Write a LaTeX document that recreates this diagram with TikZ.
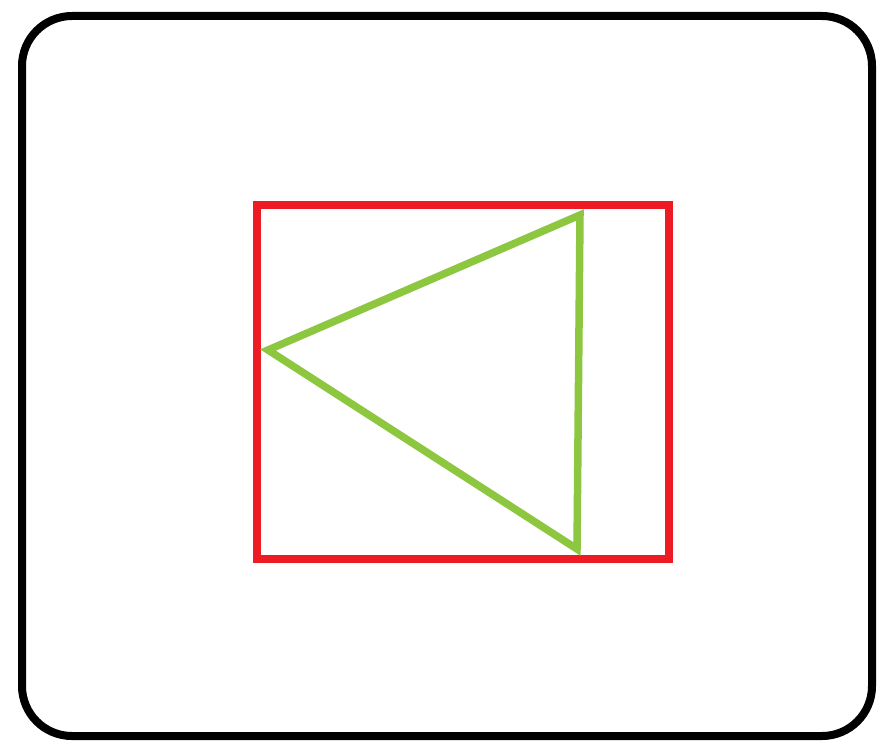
\documentclass[tikz,border=0pt]{standalone}
\usepackage{tikz}
\usetikzlibrary{positioning}
\usetikzlibrary{calc}

\definecolor{framered}{RGB}{237,28,36}
\definecolor{leafgreen}{RGB}{141,198,63}

\begin{document}
\begin{tikzpicture}[x=1pt, y=-1pt]
			\useasboundingbox (0,0) rectangle (890,752);

			% outer frame
			\draw[line width=8pt, rounded corners=50pt] (22,16) rectangle (872,736);

			% red box
			\draw[framered, line width=7.5pt] (257,205) rectangle (669,559);

			% green triangle
			\coordinate (L) at (268,350);
			\coordinate (T) at (580,215);
			\coordinate (B) at (577,549);
			\draw[leafgreen, line width=7.5pt] (L) -- (T) -- (B) -- cycle;
		\end{tikzpicture}
\end{document}
